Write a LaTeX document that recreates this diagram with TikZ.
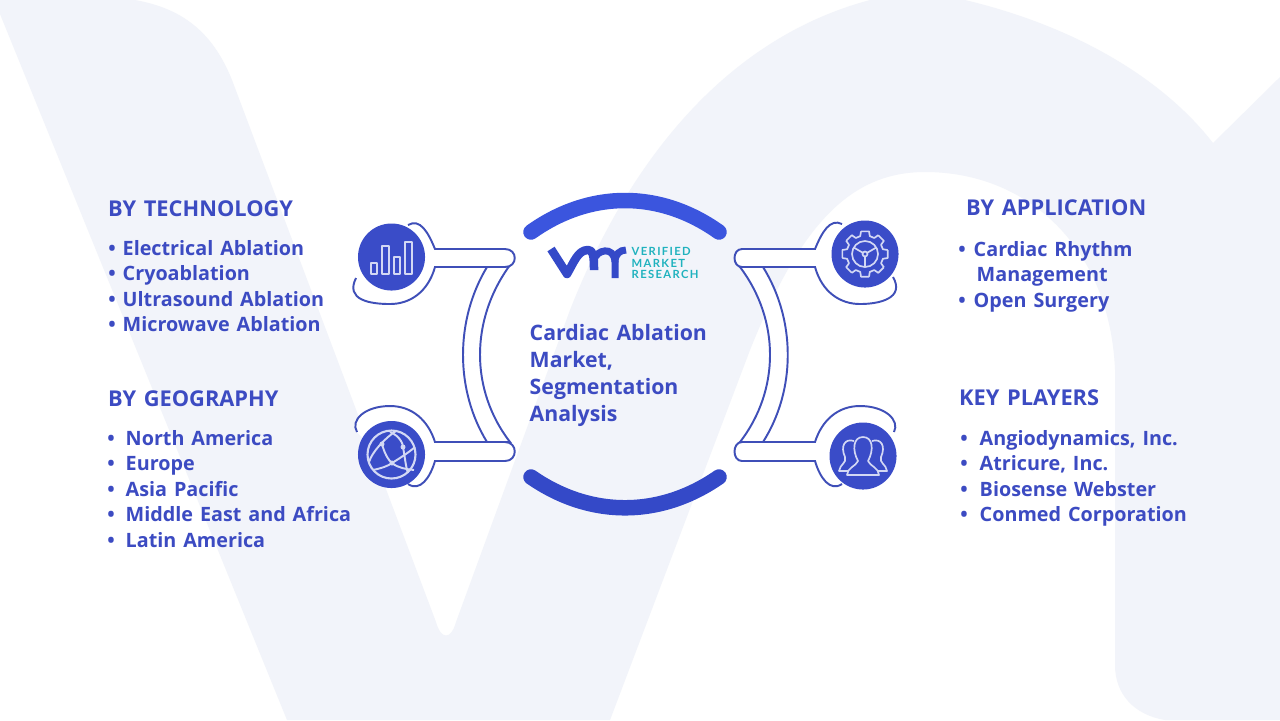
\documentclass[tikz,border=0pt]{standalone}
\usepackage{fontspec}
\setmainfont{Open Sans}[WordSpace=1.35]
\newfontfamily\logofont{Lato}[LetterSpace=12]
\usepackage{tikz}
\usetikzlibrary{calc, positioning}
\definecolor{pale}{HTML}{F2F4FA}
\definecolor{ink}{HTML}{3C4BC2}
\definecolor{royal}{HTML}{3B55DE}
\definecolor{royaldark}{HTML}{3449C8}
\definecolor{discblue}{HTML}{3A4CC8}
\definecolor{wire}{HTML}{3F4FB8}
\definecolor{teal}{HTML}{20B2BE}
\definecolor{glyph}{HTML}{D3D8F4}
\begin{document}
\begin{tikzpicture}[
		x=0.01cm, y=-0.01cm,
		disc/.style={circle, fill=discblue, minimum size=0.67cm, inner sep=0pt},
		wireline/.style={draw=wire, fill=white, line width=0.55pt},
		glyphline/.style={draw=glyph, line width=0.48pt, line join=round},
		bigarc/.style={line width=0.155cm, line cap=round},
		head/.style={anchor=base west, inner sep=0pt, text=ink, font=\bfseries\fontsize{6.2}{7}\selectfont},
		item/.style={anchor=base west, inner sep=0pt, text=ink, font=\bfseries\fontsize{5.62}{7}\selectfont},
		dotitem/.style={anchor=base, inner sep=0pt, text=ink, font=\bfseries\fontsize{5.62}{7}\selectfont},
		titleline/.style={anchor=base west, inner sep=0pt, text=ink, font=\bfseries\fontsize{6.05}{7}\selectfont},
		logoline/.style={anchor=base west, inner sep=0pt, text=teal, font=\logofont\bfseries\fontsize{3.2}{4}\selectfont}
		]
	\useasboundingbox (0,0) rectangle (1280,720);
	\fill[white] (0,0) rectangle (1280,720);

	% Background letters
	\fill[pale] (0,14) -- (0,0) -- (135,0) .. controls (180,8) and (212,30) .. (232,80)
		-- (436,622) .. controls (441,640) and (451,640) .. (456,622)
		-- (570,310) .. controls (625,170) and (720,40) .. (870,0)
		-- (965,0) .. controls (1070,25) and (1160,75) .. (1213,143) -- (1280,77)
		-- (1280,720) -- (1165,720) .. controls (1135,715) and (1115,695) .. (1115,665)
		-- (1115,370) .. controls (1110,250) and (1030,172) .. (925,172)
		.. controls (850,172) and (800,225) .. (750,350) -- (610,720) -- (287,720) -- cycle;

	% Curved bands
	\draw[wireline] (487,267) .. controls (455,320) and (455,390) .. (487,442)
		-- (510,442) .. controls (470,390) and (470,320) .. (510,265) -- cycle;
	\draw[wireline] (763,267) .. controls (796,320) and (796,390) .. (763,442)
		-- (740,442) .. controls (780,390) and (780,320) .. (740,267) -- cycle;

	% Handles
	\draw[wireline] (408,225) .. controls (420,218) and (428,232) .. (435,249) -- (505,249)
		.. controls (518,249) and (518,267) .. (505,267) -- (435,267)
		.. controls (428,292) and (410,304) .. (390,304) .. controls (370,304) and (345,300) .. (356,278);
	\draw[wireline] (357,432) .. controls (350,420) and (365,406) .. (390,406)
		.. controls (412,406) and (428,420) .. (435,442) -- (505,442)
		.. controls (518,442) and (518,461) .. (505,461) -- (435,461)
		.. controls (430,478) and (420,492) .. (408,484);
	\draw[wireline] (842,224) .. controls (830,218) and (822,232) .. (815,249) -- (742,249)
		.. controls (732,249) and (732,267) .. (742,267) -- (815,267)
		.. controls (822,292) and (840,304) .. (860,304) .. controls (880,304) and (905,298) .. (893,277);
	\draw[wireline] (894,432) .. controls (900,420) and (885,406) .. (860,406)
		.. controls (838,406) and (822,420) .. (815,442) -- (742,442)
		.. controls (732,442) and (732,461) .. (742,461) -- (815,461)
		.. controls (820,478) and (830,492) .. (842,484);

	% Icon discs
	\node[disc] (TechDisc) at (391.5,257) {};
	\node[disc] (GeoDisc) at (391.5,454.5) {};
	\node[disc] (AppDisc) at (865,254) {};
	\node[disc] (PlayerDisc) at (863,456) {};

	% Bars
	\draw[glyphline] (371,263) rectangle (377,274);
	\draw[glyphline] (382,246) rectangle (389,274);
	\draw[glyphline] (394,257) rectangle (400,274);
	\draw[glyphline] (405,242) rectangle (412,274);

	% Globe
	\draw[glyphline, line width=0.6pt] (GeoDisc) circle (24);
	\draw[glyphline, line width=0.55pt] (369,462) .. controls (372,452) and (385,438) .. (396,431);
	\draw[glyphline, line width=0.55pt] (382,444) .. controls (384,452) and (388,460) .. (392,463) .. controls (398,468) and (406,469) .. (414,470);
	\draw[glyphline, line width=0.55pt] (390,432) .. controls (400,436) and (403,444) .. (403,447) .. controls (405,458) and (406,468) .. (408,473);
	\draw[glyphline, line width=0.55pt] (373,470) .. controls (382,468) and (388,466) .. (392,463) .. controls (400,458) and (408,453) .. (415,447);
	\fill[glyph] (382,444) circle (2.5) (403,447) circle (2.5) (392,463) circle (2.5);

	% Gear
	\begin{scope}[shift={(865,254)}]
		\foreach \a in {0,45,...,315}
			\draw[glyphline] (\a-10:23) -- (\a+10:23) -- (\a+15:18.5) -- (\a+30:18.5) -- (\a+35:23);
		\draw[glyphline] (0,0) circle (13);
		\draw[glyphline] (0,0) circle (2.5);
		\foreach \a in {90,210,330}
			\draw[glyphline] (\a:2.5) -- (\a:13);
	\end{scope}

	% People
	\draw[glyphline] (847,475) .. controls (847,468) and (856,466) .. (858,461)
		.. controls (852,450) and (853,437) .. (863,437) .. controls (873,437) and (874,450) .. (868,461)
		.. controls (870,466) and (879,468) .. (879,475) -- cycle;
	\draw[glyphline] (854,441) .. controls (845,438) and (840,446) .. (845,457)
		.. controls (847,463) and (840,464) .. (839,471) -- (848,471);
	\draw[glyphline] (872,441) .. controls (881,438) and (886,446) .. (881,457)
		.. controls (879,463) and (886,464) .. (887,471) -- (878,471);

	% Arcs around the centre
	\draw[bigarc, draw=royal] (531,232) .. controls (590,190) and (660,190) .. (719,232);
	\draw[bigarc, draw=royaldark] (531,477) .. controls (590,518) and (660,518) .. (719,477);

	% Logo
	\draw[draw=royaldark, line width=0.085cm, line join=round] (551,249) -- (567,274)
		.. controls (574,262) and (578,250) .. (588,250) .. controls (593,250) and (594,255) .. (594,270);
	\draw[draw=royaldark, line width=0.07cm] (594,260) .. controls (596,250) and (614,245) .. (615,262) -- (615,278);
	\draw[draw=royaldark, line width=0.07cm] (615,262) .. controls (615,254) and (620,250) .. (626,250);
	\node[logoline] (LogoA) at (631,255) {VERIFIED};
	\node[logoline] (LogoB) at (631,267) {MARKET};
	\node[logoline] (LogoC) at (631,278) {RESEARCH};

	% Title
	\node[titleline] (TitleA) at (529,340) {Cardiac Ablation};
	\node[titleline] (TitleB) at (529,367) {Market,};
	\node[titleline] (TitleC) at (529,394) {Segmentation};
	\node[titleline] (TitleD) at (529,421) {Analysis};

	% Left lists
	\node[head] (TechHead) at (107.5,216) {BY TECHNOLOGY};
	\foreach \y/\txt [count=\i] in {255/Electrical Ablation, 280/Cryoablation, 306/Ultrasound Ablation, 331/Microwave Ablation} {
		\node[dotitem] (TechDot\i) at (112,\y) {•};
		\node[item] (TechItem\i) at (122,\y) {\txt};
	}
	\node[head] (GeoHead) at (107.5,406) {BY GEOGRAPHY};
	\foreach \y/\txt [count=\i] in {445/North America, 470/Europe, 496/Asia Pacific, 521/Middle East and Africa, 547/Latin America} {
		\node[dotitem] (GeoDot\i) at (111,\y) {•};
		\node[item] (GeoItem\i) at (125,\y) {\txt};
	}

	% Right lists
	\node[head] (AppHead) at (965.5,215) {BY APPLICATION};
	\node[dotitem] (AppDot1) at (962,256) {•};
	\node[item] (AppItem1) at (973,256) {Cardiac Rhythm};
	\node[item] (AppItem2) at (976,281) {Management};
	\node[dotitem] (AppDot3) at (962,307) {•};
	\node[item] (AppItem3) at (973,307) {Open Surgery};
	\node[head] (PlayerHead) at (958.5,405) {KEY PLAYERS};
	\foreach \y/\txt [count=\i] in {445/{Angiodynamics, Inc.}, 470/{Atricure, Inc.}, 496/Biosense Webster, 521/Conmed Corporation} {
		\node[dotitem] (PlayerDot\i) at (964,\y) {•};
		\node[item] (PlayerItem\i) at (979,\y) {\txt};
	}
\end{tikzpicture}
\end{document}
